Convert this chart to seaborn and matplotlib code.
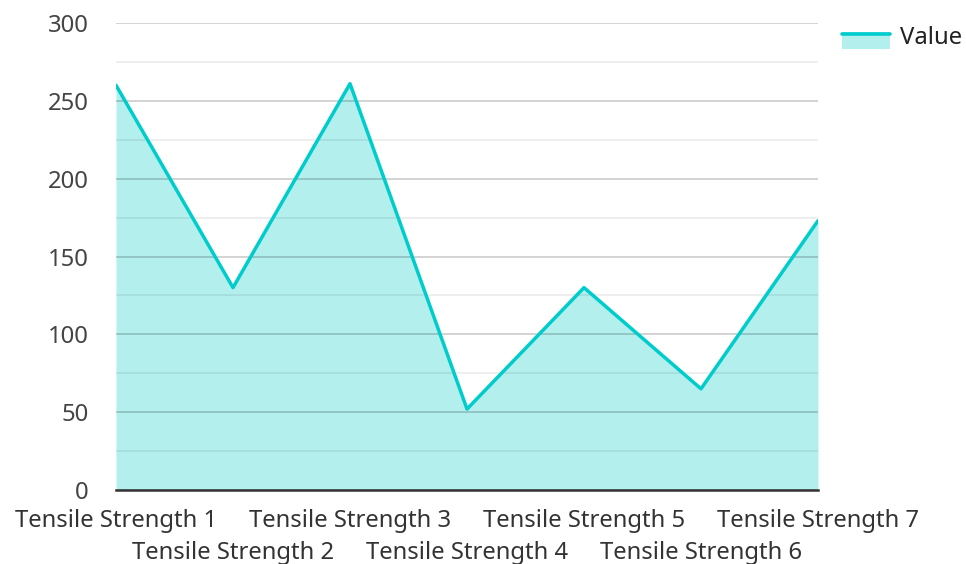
import matplotlib
matplotlib.use("Agg")
import matplotlib.pyplot as plt
import seaborn as sns
import pandas as pd
import numpy as np
from matplotlib.patches import Rectangle
from matplotlib.lines import Line2D
from matplotlib.legend_handler import HandlerBase

categories = ["Tensile Strength 1", "Tensile Strength 2", "Tensile Strength 3",
              "Tensile Strength 4", "Tensile Strength 5", "Tensile Strength 6",
              "Tensile Strength 7"]
values = [260, 130, 261, 52, 130, 65, 173]
y_ticks = [0, 50, 100, 150, 200, 250, 300]
series_name = "Value"

LINE = "#00cccc"
FILL = "#b2efed"
FS = 17.2

sns.set_theme(style="white")
plt.rcParams["font.family"] = ["Noto Sans", "DejaVu Sans"]

df = pd.DataFrame({"category": categories, "value": values})
df["pos"] = np.arange(len(categories))

fig = plt.figure(figsize=(9.66, 5.64), dpi=100)
ax = fig.add_axes([0.1201, 0.1312, 0.8468 - 0.1201, 0.9592 - 0.1312])

ax.fill_between(df["pos"], 0, df["value"], color=FILL, linewidth=0, zorder=1)
sns.lineplot(data=df, x="pos", y="value", ax=ax, color=LINE, linewidth=2.5,
             zorder=3, legend=False)

ax.set_xlim(0, len(categories) - 1)
ax.set_ylim(0, 300)
ax.set_yticks(y_ticks)
ax.set_yticks(np.arange(25, 300, 50), minor=True)
ax.grid(axis="y", which="major", color="black", alpha=0.2, linewidth=1.2)
ax.grid(axis="y", which="minor", color="black", alpha=0.08, linewidth=1.2)
ax.set_axisbelow(False)
ax.grid(axis="x", visible=False)

ax.set_xticks(df["pos"])
ax.set_xticklabels(categories)
ax.tick_params(axis="x", length=0, labelsize=FS, labelcolor="#333333")
ax.tick_params(axis="y", which="both", length=0, labelsize=FS, labelcolor="#444444", pad=19.5)
for i, tick in enumerate(ax.xaxis.get_major_ticks()):
    tick.set_pad(13.5 if i % 2 == 0 else 36.5)

for side in ["top", "right", "left"]:
    ax.spines[side].set_visible(False)
ax.spines["bottom"].set_color("#333333")
ax.spines["bottom"].set_linewidth(1.8)
ax.spines["bottom"].set_zorder(4)
ax.set_xlabel("")
ax.set_ylabel("")


class AreaLineHandler(HandlerBase):
    """Legend key: filled band with the series line along its top edge."""
    def create_artists(self, legend, orig_handle, xdescent, ydescent,
                       width, height, fontsize, trans):
        rect = Rectangle((-xdescent, -ydescent - 0.3 * height), width, height * 1.0,
                         facecolor=FILL, edgecolor="none", transform=trans)
        top = -ydescent + 0.62 * height
        line = Line2D([-xdescent, -xdescent + width], [top, top],
                      color=LINE, linewidth=2.6, transform=trans)
        return [rect, line]


proxy = Line2D([], [], color=LINE)
fig.legend([proxy], [series_name], handler_map={Line2D: AreaLineHandler()},
           loc="upper left", bbox_to_anchor=(842 / 966, 1 - 26 / 564), frameon=False,
           fontsize=FS, handlelength=2.0, handletextpad=0.42,
           borderpad=0, borderaxespad=0, labelcolor="#222222")

fig.savefig("out.png", dpi=100)
